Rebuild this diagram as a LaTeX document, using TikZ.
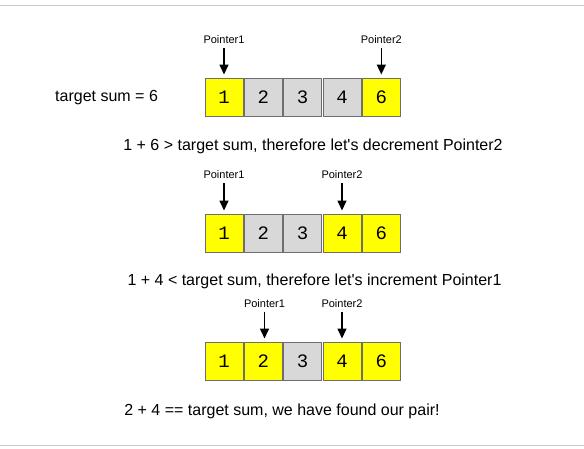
\documentclass[tikz,border=0pt]{standalone}
\usepackage{fontspec}
\setmainfont{Liberation Sans}
\newfontfamily\digitfont{Liberation Mono}
\usetikzlibrary{arrows.meta}

\definecolor{cellyellow}{RGB}{255,255,0}
\definecolor{cellgray}{RGB}{216,216,216}
\definecolor{celledge}{RGB}{110,110,110}
\definecolor{rulegray}{RGB}{204,204,204}

\tikzset{
	cell/.style = {draw = celledge, line width = 1pt, minimum width = 38pt, minimum height = 38pt, inner sep = 0pt, font = \digitfont\fontsize{19}{19}\selectfont},
	on/.style = {cell, fill = cellyellow},
	off/.style = {cell, fill = cellgray},
	ptrlabel/.style = {anchor = base, inner sep = 0pt, font = \fontsize{11}{11}\selectfont},
	caption/.style = {anchor = base, inner sep = 0pt, font = \fontsize{16}{16}\selectfont},
	ptr/.style = {line width = 1.6pt, -{Triangle[length = 10pt, width = 9pt]}, shorten <= 4.5pt, shorten >= 3pt}
}

\begin{document}
\begin{tikzpicture}[x = 1pt, y = -1pt]

		\useasboundingbox (0, 0) rectangle (584, 448);
		\draw[rulegray, line width = 1pt] (0, 5.5) -- (584, 5.5);
		\draw[rulegray, line width = 1pt] (0, 445) -- (584, 445);

		% first step
		\node[caption, anchor = base west] (target) at (55, 101.5) {target sum = 6};
		\node[on] (a1) at (224, 97) {1};
		\node[off] (a2) at (263.3, 97) {2};
		\node[off] (a3) at (302.6, 97) {3};
		\node[off] (a4) at (342, 97) {4};
		\node[on] (a5) at (381.3, 97) {6};

		\node[ptrlabel] (pa1) at (224, 43.3) {Pointer1};
		\node[ptrlabel] (pa2) at (381.3, 43.3) {Pointer2};
		\draw[ptr] (pa1.south) -- (a1.north);
		\draw[ptr] (pa2.south) -- (a5.north);

		\node[caption] (stepa) at (313, 150) {1 + 6 > target sum, therefore let\textquotesingle s decrement Pointer2};

		% second step
		\node[on] (b1) at (224, 233) {1};
		\node[off] (b2) at (263.3, 233) {2};
		\node[off] (b3) at (302.6, 233) {3};
		\node[on] (b4) at (342, 233) {4};
		\node[on] (b5) at (381.3, 233) {6};

		\node[ptrlabel] (pb1) at (224, 178.3) {Pointer1};
		\node[ptrlabel] (pb2) at (342, 178.3) {Pointer2};
		\draw[ptr] (pb1.south) -- (b1.north);
		\draw[ptr] (pb2.south) -- (b4.north);

		\node[caption] (stepb) at (314.5, 285.3) {1 + 4 < target sum, therefore let\textquotesingle s increment Pointer1};

		% third step
		\node[on] (c1) at (224, 361) {1};
		\node[on] (c2) at (263.3, 361) {2};
		\node[off] (c3) at (302.6, 361) {3};
		\node[on] (c4) at (342, 361) {4};
		\node[on] (c5) at (381.3, 361) {6};

		\node[ptrlabel] (pc1) at (264.5, 307.3) {Pointer1};
		\node[ptrlabel] (pc2) at (342, 307.3) {Pointer2};
		\draw[ptr] (pc1.south) -- (pc1.south |- c2.north);
		\draw[ptr] (pc2.south) -- (c4.north);

		\node[caption] (stepc) at (282, 415.7) {2 + 4 == target sum, we have found our pair!};

	\end{tikzpicture}
\end{document}
